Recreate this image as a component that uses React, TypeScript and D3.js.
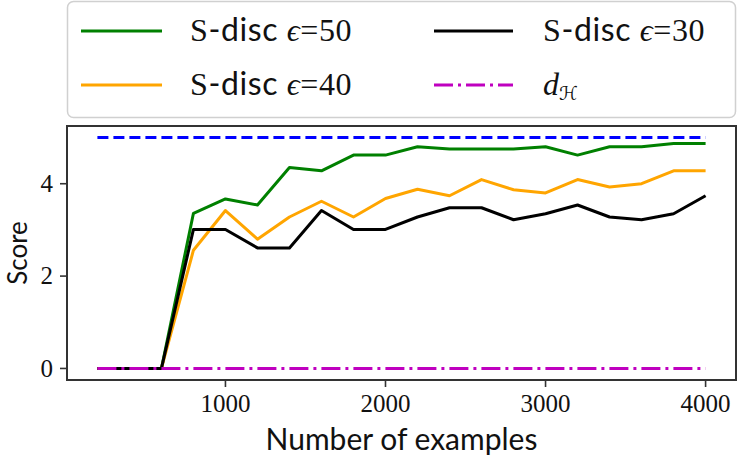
import * as d3 from "d3";

// number of training examples
const X_VALUES = [
  200, 400, 600, 800, 1000, 1200, 1400, 1600, 1800, 2000, 2200, 2400, 2600, 2800, 3000, 3200,
  3400, 3600, 3800, 4000,
];

const EPS50 = [
  0, 0, 0, 3.36, 3.67, 3.54, 4.35, 4.28, 4.62, 4.62, 4.8, 4.75, 4.75, 4.75, 4.8, 4.62, 4.8, 4.8,
  4.87, 4.87,
];
const EPS40 = [
  0, 0, 0, 2.56, 3.42, 2.8, 3.28, 3.62, 3.28, 3.68, 3.88, 3.74, 4.09, 3.87, 3.8, 4.09, 3.93, 4.0,
  4.28, 4.28,
];
const EPS30 = [
  0, 0, 0, 3.01, 3.01, 2.61, 2.61, 3.42, 3.01, 3.01, 3.28, 3.48, 3.48, 3.22, 3.35, 3.54, 3.28,
  3.22, 3.35, 3.74,
];
const UPPER = [5, 5, 5, 5, 5, 5, 5, 5, 5, 5, 5, 5, 5, 5, 5, 5, 5, 5, 5, 5];
const D_H = [0, 0, 0, 0, 0, 0, 0, 0, 0, 0, 0, 0, 0, 0, 0, 0, 0, 0, 0, 0];

const X_TICKS = [1000, 2000, 3000, 4000];
const Y_TICKS = [0, 2, 4];

const SERIF = "Liberation Serif";
const SANS = "Lato";

const W = 741;
const H = 458;
const PLOT = { left: 67, right: 736, top: 126, bottom: 380 };

const SERIES = [
  { values: EPS50, color: "#008000", dash: undefined },
  { values: EPS40, color: "#FFA500", dash: undefined },
  { values: EPS30, color: "#000000", dash: undefined },
  { values: UPPER, color: "#0000FF", dash: "11,5" },
  { values: D_H, color: "#BF00BF", dash: "19,5,3,5" },
];

const LEGEND = [
  { col: 0, row: 0, color: "#008000", dash: undefined, eps: "50" },
  { col: 0, row: 1, color: "#FFA500", dash: undefined, eps: "40" },
  { col: 1, row: 0, color: "#000000", dash: undefined, eps: "30" },
  { col: 1, row: 1, color: "#BF00BF", dash: "19,5,3,5", eps: null },
];

const App = () => {
  const x = d3.scaleLinear().domain([10, 4190]).range([PLOT.left, PLOT.right]);
  const y = d3.scaleLinear().domain([-0.25, 5.25]).range([PLOT.bottom, PLOT.top]);
  const line = d3
    .line<number>()
    .x((_d, i) => x(X_VALUES[i]))
    .y((d) => y(d));

  const colX = [
    { x0: 81, x1: 162, tx: 190 },
    { x0: 434, x1: 513, tx: 543 },
  ];
  const rowY = [31, 85];

  return (
    <div style={{ position: "absolute", left: 0, top: 0 }}>
      <svg width={W} height={H}>
        <rect width={W} height={H} fill="#fff" />

        {SERIES.map((s, i) => (
          <path
            key={i}
            d={line(s.values) ?? ""}
            fill="none"
            stroke={s.color}
            strokeWidth={3}
            strokeLinejoin="round"
            strokeDasharray={s.dash}
          />
        ))}

        {/* x axis */}
        {X_TICKS.map((t) => (
          <g key={t} transform={`translate(${x(t)},${PLOT.bottom})`}>
            <line y2={7} stroke="#333" strokeWidth={1.6} />
            <text y={32} textAnchor="middle" fontFamily={SERIF} fontSize={25} fill="#111">
              {t}
            </text>
          </g>
        ))}

        {/* y axis */}
        {Y_TICKS.map((t) => (
          <g key={t} transform={`translate(${PLOT.left},${y(t)})`}>
            <line x2={-7} stroke="#333" strokeWidth={1.6} />
            <text x={-14} dy="0.33em" textAnchor="end" fontFamily={SERIF} fontSize={25} fill="#111">
              {t}
            </text>
          </g>
        ))}

        <rect
          x={PLOT.left}
          y={PLOT.top}
          width={PLOT.right - PLOT.left}
          height={PLOT.bottom - PLOT.top}
          fill="none"
          stroke="#333"
          strokeWidth={2}
        />

        <text
          x={(PLOT.left + PLOT.right) / 2}
          y={450}
          textAnchor="middle"
          fontFamily={SANS}
          fontSize={30}
          fill="#111"
        >
          Number of examples
        </text>
        <text
          transform={`translate(27,${(PLOT.top + PLOT.bottom) / 2}) rotate(-90)`}
          textAnchor="middle"
          fontFamily={SANS}
          fontSize={26}
          fill="#111"
        >
          Score
        </text>

        {/* legend */}
        <rect
          x={67.5}
          y={1.5}
          width={668}
          height={116}
          rx={6}
          fill="#fff"
          stroke="#d0d0d0"
          strokeWidth={1.5}
        />
        {LEGEND.map((e, i) => {
          const c = colX[e.col];
          const ly = rowY[e.row];
          return (
            <g key={i}>
              <line
                x1={c.x0}
                x2={c.x1}
                y1={ly}
                y2={ly}
                stroke={e.color}
                strokeWidth={3}
                strokeDasharray={e.dash}
              />
              {e.eps ? (
                <text
                  x={c.tx}
                  y={ly + 10}
                  fontSize={32}
                  letterSpacing={0.6}
                  fill="#111"
                  fontFamily={SERIF}
                >
                  <tspan>S</tspan>
                  <tspan fontFamily={SANS}>-disc </tspan>
                  <tspan fontStyle="italic">{"\u03f5"}</tspan>
                  <tspan>={e.eps}</tspan>
                </text>
              ) : (
                <text x={c.tx} y={ly + 10} fontSize={32} fill="#111" fontFamily={SERIF}>
                  <tspan fontStyle="italic">d</tspan>
                  <tspan fontFamily="DejaVu Sans" fontSize={19} dy={5}>
                    {"\u210b"}
                  </tspan>
                </text>
              )}
            </g>
          );
        })}
      </svg>
    </div>
  );
};

export default App;
